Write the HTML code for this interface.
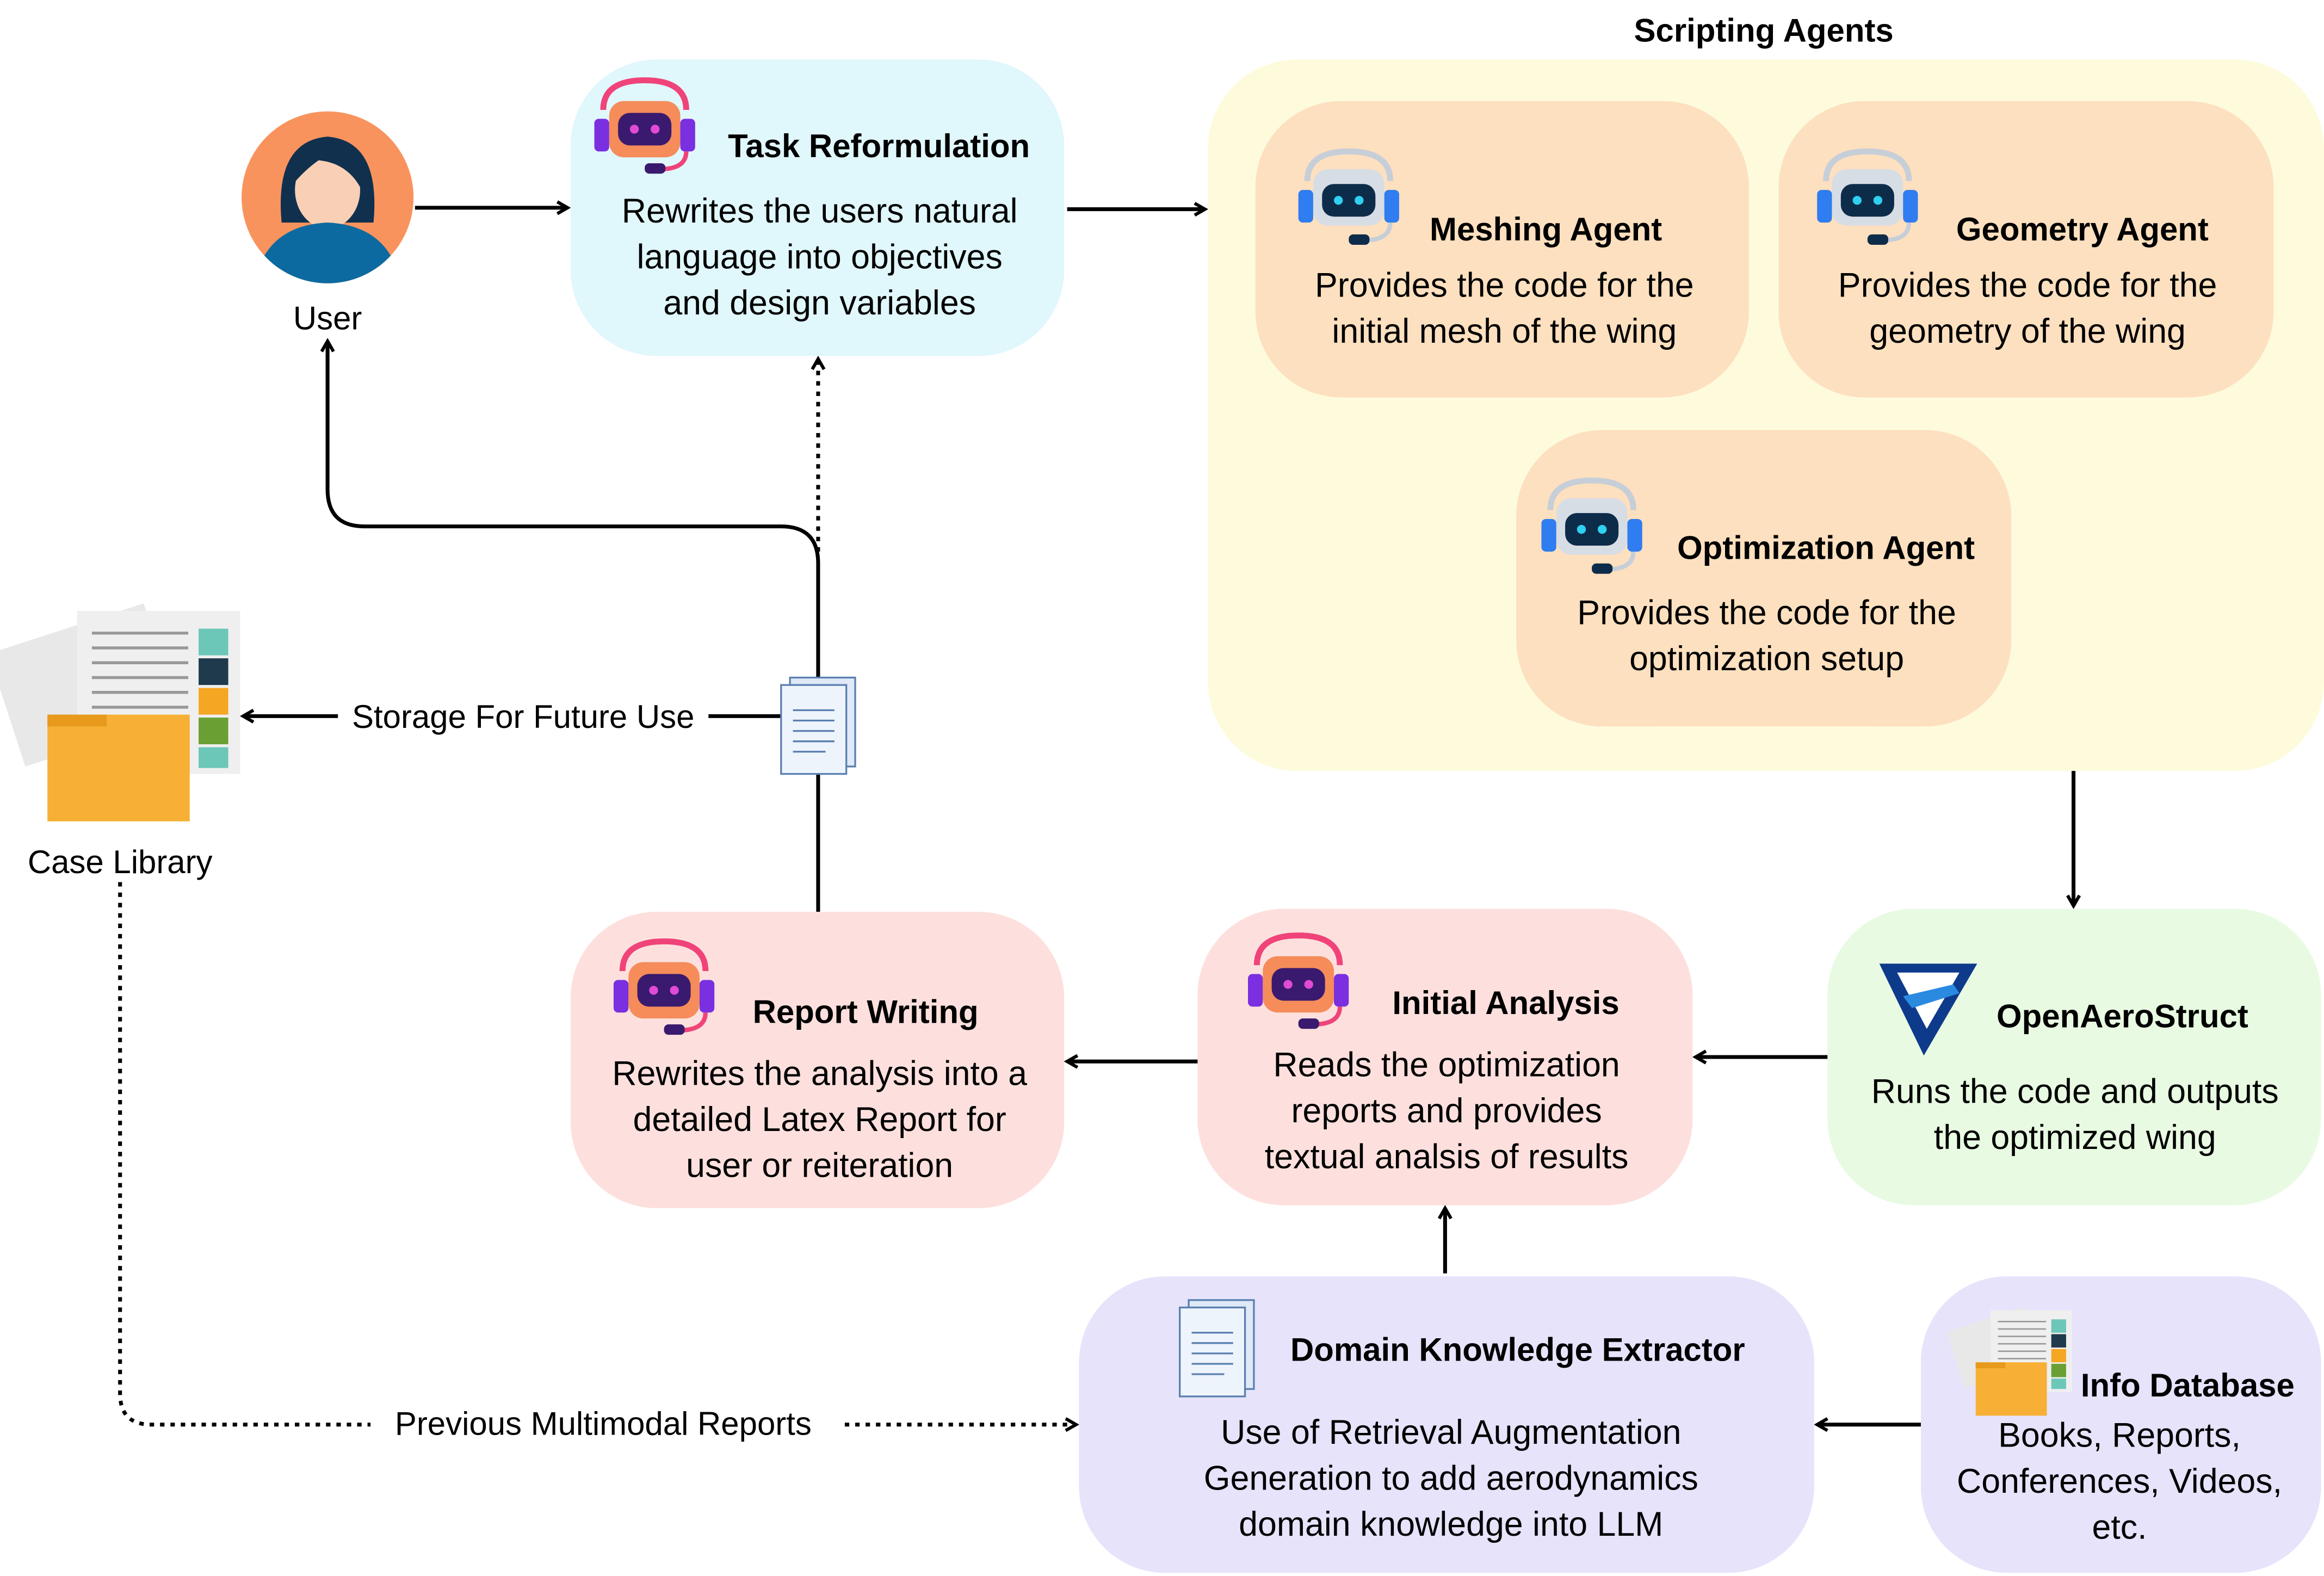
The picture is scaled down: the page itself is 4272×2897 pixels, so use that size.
<!DOCTYPE html>
<html><head><meta charset="utf-8"><style>html,body{margin:0;padding:0;background:#fff}svg{display:block}</style></head>
<body>
<svg xmlns="http://www.w3.org/2000/svg" width="4272" height="2897" viewBox="0 0 1568 1063" font-family="Liberation Sans, sans-serif">
<defs>
<marker id="ah" markerWidth="10" markerHeight="10" refX="8" refY="5" orient="auto" markerUnits="userSpaceOnUse">
<path d="M1,1 L8,5 L1,9" fill="none" stroke="#000" stroke-width="2.2"/></marker>
<g id="robotP">
<path d="M6,22 Q6,2 34,2 Q62,2 62,22" fill="none" stroke="#f0437a" stroke-width="4"/>
<rect x="10" y="16" width="48" height="38" rx="10" fill="#f58c5a"/>
<rect x="16" y="24" width="36" height="22" rx="8" fill="#3a1a6e"/>
<circle cx="27" cy="35" r="3" fill="#e04bd6"/><circle cx="41" cy="35" r="3" fill="#e04bd6"/>
<rect x="0" y="28" width="10" height="22" rx="3" fill="#7a2fe0"/><rect x="58" y="28" width="10" height="22" rx="3" fill="#7a2fe0"/>
<path d="M62,50 Q62,62 44,62" fill="none" stroke="#f0437a" stroke-width="3"/><rect x="34" y="58" width="14" height="7" rx="3" fill="#3a1a6e"/>
</g>
<g id="robotB">
<path d="M6,22 Q6,2 34,2 Q62,2 62,22" fill="none" stroke="#c6ced8" stroke-width="4"/>
<rect x="10" y="14" width="48" height="38" rx="10" fill="#d7dde5"/>
<rect x="16" y="24" width="36" height="22" rx="8" fill="#0d2c4a"/>
<circle cx="27" cy="35" r="3" fill="#2fd0f0"/><circle cx="41" cy="35" r="3" fill="#2fd0f0"/>
<rect x="0" y="28" width="10" height="22" rx="3" fill="#2f7df0"/><rect x="58" y="28" width="10" height="22" rx="3" fill="#2f7df0"/>
<path d="M62,50 Q62,62 44,62" fill="none" stroke="#c6ced8" stroke-width="3"/><rect x="34" y="58" width="14" height="7" rx="3" fill="#0d2c4a"/>
</g>
<g id="doc">
<rect x="6" y="0" width="44" height="60" fill="#dfe9f7" stroke="#5a7fb0" stroke-width="1.2"/>
<rect x="0" y="5" width="44" height="60" fill="#eef4fc" stroke="#5a7fb0" stroke-width="1.2"/>
<g stroke="#5a7fb0" stroke-width="1.2"><line x1="8" y1="22" x2="36" y2="22"/><line x1="8" y1="29" x2="36" y2="29"/><line x1="8" y1="36" x2="36" y2="36"/><line x1="8" y1="43" x2="36" y2="43"/><line x1="8" y1="50" x2="30" y2="50"/></g>
</g>
<g id="folder">
<rect x="0" y="10" width="110" height="80" fill="#e8e8e8" transform="rotate(-18 55 50)"/>
<rect x="50" y="0" width="110" height="110" fill="#efefef"/>
<g stroke="#999" stroke-width="2"><line x1="60" y1="15" x2="125" y2="15"/><line x1="60" y1="25" x2="125" y2="25"/><line x1="60" y1="35" x2="125" y2="35"/><line x1="60" y1="45" x2="125" y2="45"/><line x1="60" y1="55" x2="125" y2="55"/><line x1="60" y1="65" x2="125" y2="65"/></g>
<rect x="132" y="12" width="20" height="18" fill="#6cc7b8"/><rect x="132" y="32" width="20" height="18" fill="#1f3a4c"/><rect x="132" y="52" width="20" height="18" fill="#f5a623"/><rect x="132" y="72" width="20" height="18" fill="#6aa033"/><rect x="132" y="92" width="20" height="14" fill="#6cc7b8"/>
<rect x="30" y="70" width="96" height="72" fill="#f7b035"/><rect x="30" y="70" width="40" height="8" fill="#e89a1c"/>
</g>
</defs>

<text x="1190" y="28" text-anchor="middle" font-size="22" font-weight="bold">Scripting Agents</text>
<rect x="815" y="40" width="753" height="480" rx="60" fill="#fefbdd"/>

<rect x="847" y="68" width="333" height="200" rx="58" fill="#fde0bf"/>
<use href="#robotB" x="876" y="100"/>
<text x="1043" y="162" text-anchor="middle" font-size="22" font-weight="bold">Meshing Agent</text>
<text x="1015" y="200" text-anchor="middle" font-size="23">Provides the code for the</text>
<text x="1015" y="231" text-anchor="middle" font-size="23">initial mesh of the wing</text>

<rect x="1200" y="68" width="334" height="200" rx="58" fill="#fde0bf"/>
<use href="#robotB" x="1226" y="100"/>
<text x="1405" y="162" text-anchor="middle" font-size="22" font-weight="bold">Geometry Agent</text>
<text x="1368" y="200" text-anchor="middle" font-size="23">Provides the code for the</text>
<text x="1368" y="231" text-anchor="middle" font-size="23">geometry of the wing</text>

<rect x="1023" y="290" width="334" height="200" rx="58" fill="#fde0bf"/>
<use href="#robotB" x="1040" y="322"/>
<text x="1232" y="377" text-anchor="middle" font-size="22" font-weight="bold">Optimization Agent</text>
<text x="1192" y="421" text-anchor="middle" font-size="23">Provides the code for the</text>
<text x="1192" y="452" text-anchor="middle" font-size="23">optimization setup</text>

<rect x="385" y="40" width="333" height="200" rx="58" fill="#e0f7fc"/>
<use href="#robotP" x="401" y="52"/>
<text x="593" y="106" text-anchor="middle" font-size="22" font-weight="bold">Task Reformulation</text>
<text x="553" y="150" text-anchor="middle" font-size="23">Rewrites the users natural</text>
<text x="553" y="181" text-anchor="middle" font-size="23">language into objectives</text>
<text x="553" y="212" text-anchor="middle" font-size="23">and design variables</text>

<clipPath id="uc"><circle cx="221" cy="133" r="58"/></clipPath>
<circle cx="221" cy="133" r="58" fill="#f9935e"/>
<g clip-path="url(#uc)">
<path d="M190,150 Q185,95 221,92 Q257,95 252,150 Z" fill="#10304e"/>
<rect x="212" y="140" width="18" height="18" fill="#f6c3a6"/>
<ellipse cx="221" cy="128" rx="22" ry="26" fill="#f9d0b5"/>
<path d="M197,125 Q200,95 225,100 Q245,105 244,128 Q235,110 215,108 Q205,115 197,125Z" fill="#10304e"/>
<path d="M170,200 Q175,152 221,150 Q267,152 272,200Z" fill="#0d6aa0"/>
</g>
<text x="221" y="222" text-anchor="middle" font-size="22">User</text>

<rect x="385" y="615" width="333" height="200" rx="58" fill="#fde0dd"/>
<use href="#robotP" x="414" y="633"/>
<text x="584" y="690" text-anchor="middle" font-size="22" font-weight="bold">Report Writing</text>
<text x="553" y="732" text-anchor="middle" font-size="23">Rewrites the analysis into a</text>
<text x="553" y="763" text-anchor="middle" font-size="23">detailed Latex Report for</text>
<text x="553" y="794" text-anchor="middle" font-size="23">user or reiteration</text>

<rect x="808" y="613" width="334" height="200" rx="58" fill="#fde0dd"/>
<use href="#robotP" x="842" y="629"/>
<text x="1016" y="684" text-anchor="middle" font-size="22" font-weight="bold">Initial Analysis</text>
<text x="976" y="726" text-anchor="middle" font-size="23">Reads the optimization</text>
<text x="976" y="757" text-anchor="middle" font-size="23">reports and provides</text>
<text x="976" y="788" text-anchor="middle" font-size="23">textual analsis of results</text>

<rect x="1233" y="613" width="333" height="200" rx="58" fill="#e8fbe2"/>
<path d="M1268,650 L1334,650 L1298,712 Z" fill="#0e3a8c"/>
<path d="M1280,656 L1322,656 L1300,694 Z" fill="#fff"/>
<path d="M1284,672 L1318,664 L1322,670 L1290,680 Z" fill="#2a8ae0"/>
<text x="1432" y="693" text-anchor="middle" font-size="22" font-weight="bold">OpenAeroStruct</text>
<text x="1400" y="744" text-anchor="middle" font-size="23">Runs the code and outputs</text>
<text x="1400" y="775" text-anchor="middle" font-size="23">the optimized wing</text>

<rect x="728" y="861" width="496" height="200" rx="58" fill="#e6e3fb"/>
<use href="#doc" x="796" y="877"/>
<text x="1024" y="918" text-anchor="middle" font-size="22" font-weight="bold">Domain Knowledge Extractor</text>
<text x="979" y="974" text-anchor="middle" font-size="23">Use of Retrieval Augmentation</text>
<text x="979" y="1005" text-anchor="middle" font-size="23">Generation to add aerodynamics</text>
<text x="979" y="1036" text-anchor="middle" font-size="23">domain knowledge into LLM</text>

<rect x="1296" y="861" width="270" height="200" rx="58" fill="#e6e3fb"/>
<use href="#folder" transform="translate(1318,884) scale(0.5)"/>
<text x="1476" y="942" text-anchor="middle" font-size="22" font-weight="bold">Info Database</text>
<text x="1430" y="976" text-anchor="middle" font-size="23">Books, Reports,</text>
<text x="1430" y="1007" text-anchor="middle" font-size="23">Conferences, Videos,</text>
<text x="1430" y="1038" text-anchor="middle" font-size="23">etc.</text>

<use href="#folder" transform="translate(2,412)"/>
<text x="81" y="589" text-anchor="middle" font-size="22">Case Library</text>

<g stroke="#000" stroke-width="2.6" fill="none">
<line x1="280" y1="140" x2="383" y2="140" marker-end="url(#ah)"/>
<line x1="720" y1="141" x2="813" y2="141" marker-end="url(#ah)"/>
<line x1="1399" y1="520" x2="1399" y2="611" marker-end="url(#ah)"/>
<line x1="1233" y1="713" x2="1144" y2="713" marker-end="url(#ah)"/>
<line x1="808" y1="716" x2="720" y2="716" marker-end="url(#ah)"/>
<line x1="975" y1="859" x2="975" y2="815" marker-end="url(#ah)"/>
<line x1="1296" y1="961" x2="1226" y2="961" marker-end="url(#ah)"/>
<path d="M552,615 L552,380 Q552,355 527,355 L246,355 Q221,355 221,330 L221,230" marker-end="url(#ah)"/>
<path d="M552,372 L552,242" stroke-dasharray="3,4" marker-end="url(#ah)"/>
<line x1="527" y1="483" x2="478" y2="483"/>
<line x1="228" y1="483" x2="164" y2="483" marker-end="url(#ah)"/>
<path d="M81,595 L81,940 Q81,961 102,961 L250,961" stroke-dasharray="3,4"/>
<path d="M570,961 L726,961" stroke-dasharray="3,4" marker-end="url(#ah)"/>
</g>
<use href="#doc" x="527" y="457"/>
<text x="353" y="491" text-anchor="middle" font-size="22">Storage For Future Use</text>
<text x="407" y="968" text-anchor="middle" font-size="22">Previous Multimodal Reports</text>
</svg>
</body></html>
